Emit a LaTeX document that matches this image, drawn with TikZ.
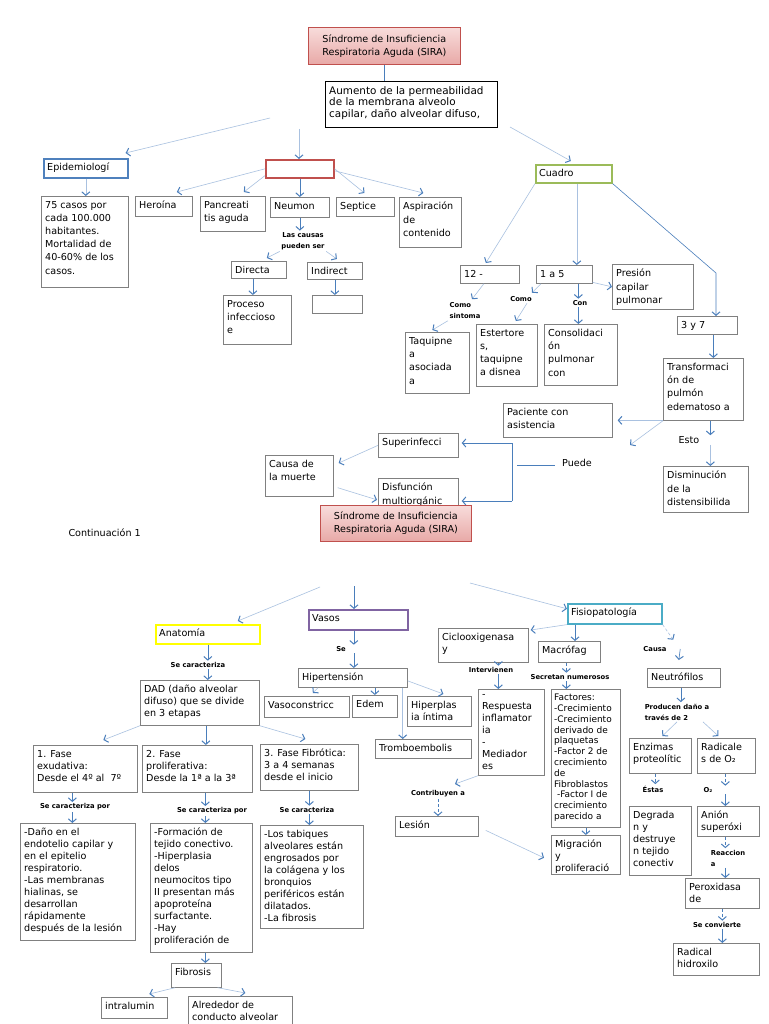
\documentclass[tikz,border=0pt]{standalone}
\usepackage{fontspec}
\setmainfont{DejaVu Sans}
\usetikzlibrary{arrows.meta,positioning,calc}
\definecolor{lineblue}{HTML}{4A7EBB}
\definecolor{paleblue}{HTML}{A9C1E0}
\definecolor{boxgray}{HTML}{808080}
\definecolor{sirared}{HTML}{C0504D}
\definecolor{sirapinkA}{HTML}{F8DCDB}
\definecolor{sirapinkB}{HTML}{E8A9A7}
\definecolor{epiblue}{HTML}{4F81BD}
\definecolor{cuadrogreen}{HTML}{9BBB59}
\definecolor{anayellow}{HTML}{FFFF00}
\definecolor{vasospurple}{HTML}{8064A2}
\definecolor{fisiocyan}{HTML}{4BACC6}
\newcommand{\boxfont}{\fontsize{9.6}{13.2}\selectfont}
\newcommand{\boxfontb}{\fontsize{9.6}{12}\selectfont}
\newcommand{\lblfont}{\bfseries\fontsize{6.8}{11}\selectfont}
\newcommand{\cellbox}[6][boxgray]{%
  \node[cell, draw=#1, minimum width=#4pt, minimum height=#5pt] (#2) at #3 {};
  \node[celltext] at (#2.north west) {#6};}

\begin{document}
\begin{tikzpicture}[x=1pt, y=-1pt, >={Straight Barb[length=3.5pt,width=8pt,line width=1pt]},
  cell/.style={anchor=north west, inner sep=0pt, line width=0.7pt, fill=white},
  celltext/.style={anchor=north west, inner xsep=4pt, inner ysep=5pt, align=left, font=\boxfont},
  accent/.style={line width=1.6pt},
  lbl/.style={inner sep=1.5pt, align=center, font=\lblfont},
  arr/.style={->, draw=lineblue, line width=0.6pt},
  pale/.style={-{Straight Barb[length=3.5pt,width=8pt,line width=1pt,color=lineblue]}, draw=paleblue, line width=0.6pt},
  dotarr/.style={arr, densely dashed},
  link/.style={draw=lineblue, line width=0.7pt},
  sira/.style={draw=sirared, line width=0.7pt, top color=sirapinkA, bottom color=sirapinkB, anchor=north west,
    minimum width=152pt, minimum height=37pt, inner sep=0pt, align=center, font=\boxfont}]
  \fill[white] (0,0) rectangle (768,1024);
  \useasboundingbox (0,0) rectangle (768,1024);

  \node[sira] (sira1) at (308,27) {Síndrome de Insuficiencia\\Respiratoria Aguda (SIRA)};
  \node[cell, draw=black, minimum width=172pt, minimum height=46pt] (aum) at (325,81) {};
  \node[celltext, font=\fontsize{10.4}{11.8}\selectfont] at (aum.north west) {Aumento de la permeabilidad\\de la membrana alveolo\\capilar, daño alveolar difuso,};
  \cellbox[epiblue, accent]{epi}{(43,158)}{84}{19}{Epidemiologí}
  \cellbox[sirared, accent]{causa}{(265,159)}{68}{18}{}
  \cellbox[cuadrogreen, accent]{cuadro}{(535,164)}{76}{18}{Cuadro}
  \cellbox{casos}{(41,196)}{87}{91}{75 casos por\\cada 100.000\\habitantes.\\Mortalidad de\\40-60\% de los\\casos.}
  \cellbox{hero}{(135,196)}{57}{20}{Heroína}
  \cellbox{pancr}{(200,196)}{65}{35}{Pancreati\\tis aguda}
  \cellbox{neum}{(270,197)}{59}{20}{Neumon}
  \cellbox{sept}{(336,197)}{58}{19}{Septice}
  \cellbox{aspir}{(399,197)}{62}{50}{Aspiración\\de\\contenido}
  \cellbox{dir}{(231,261)}{55}{17}{Directa}
  \cellbox{indir}{(307,262)}{55}{17}{Indirect}
  \cellbox{proc}{(223,295)}{68}{49}{Proceso\\infeccioso\\e}
  \cellbox{vacio}{(312,295)}{50}{18}{}
  \cellbox{doce}{(460,265)}{59}{18}{12 -}
  \cellbox{uno}{(536,265)}{56}{18}{1 a 5}
  \cellbox{pres}{(612,264)}{81}{45}{Presión\\capilar\\pulmonar}
  \cellbox{tres}{(677,316)}{60}{18}{3 y 7}
  \cellbox{taq}{(405,332)}{64}{61}{Taquipne\\a\\asociada\\a}
  \cellbox{est}{(476,324)}{61}{62}{Estertore\\s,\\taquipne\\a disnea}
  \cellbox{cons}{(544,324)}{73}{61}{Consolidaci\\ón\\pulmonar\\con}
  \cellbox{transf}{(663,358)}{80}{62}{Transformaci\\ón de\\pulmón\\edematoso a}
  \cellbox{pac}{(503,403)}{109}{34}{Paciente con\\asistencia}
  \cellbox{dism}{(663,466)}{85}{46}{Disminución\\de la\\distensibilida}
  \cellbox{sup}{(378,433)}{80}{24}{Superinfecci}
  \cellbox{disf}{(378,478)}{80}{29}{Disfunción\\multiorgánic}
  \cellbox{muerte}{(265,455)}{68}{41}{Causa de\\la muerte}
  \node[sira, minimum width=151pt, minimum height=36pt] (sira2) at (320,505) {Síndrome de Insuficiencia\\Respiratoria Aguda (SIRA)};

  \node[lbl] (lcaus) at (303,241) {Las causas\\pueden ser};
  \node[lbl, align=left] (lcomo1) at (465,311) {Como\\sintoma};
  \node[lbl] (lcomo2) at (521,299) {Como};
  \node[lbl] (lcon) at (580,303) {Con};
  \node[font=\boxfont, inner sep=1pt] (lesto) at (689,440) {Esto};
  \node[font=\boxfont, inner sep=1pt] (lpuede) at (577,463) {Puede};
  \node[font=\boxfont, anchor=west] (cont) at (65,533) {Continuación 1};

  \begin{scope}[celltext/.append style={font=\boxfontb}]
    \cellbox[anayellow, accent]{anat}{(155,624)}{104}{19}{Anatomía}
    \cellbox[vasospurple, accent]{vasos}{(308,609)}{99}{20}{Vasos}
    \cellbox[fisiocyan, accent]{fisio}{(567,603)}{94}{20}{Fisiopatología}
    \cellbox{dad}{(140,680)}{119}{45}{DAD (daño alveolar\\difuso) que se divide\\en 3 etapas}
    \cellbox{hiper}{(298,668)}{109}{19}{Hipertensión}
    \cellbox{vasoc}{(264,696)}{85}{21}{Vasoconstricc}
    \cellbox{edem}{(352,695)}{45}{22}{Edem}
    \cellbox{hipl}{(407,696)}{64}{30}{Hiperplas\\ia íntima}
    \cellbox{trombo}{(375,739)}{96}{19}{Tromboembolis}
    \cellbox{fase1}{(33,745)}{104}{47}{1. Fase\\exudativa:\\Desde el 4º al\ \ 7º}
    \cellbox{fase2}{(142,745)}{110}{47}{2. Fase\\proliferativa:\\Desde la 1ª a la 3ª}
    \cellbox{fase3}{(260,744)}{98}{46}{3. Fase Fibrótica:\\3 a 4 semanas\\desde el inicio}
    \cellbox{caract1}{(20,823)}{115}{117}{-Daño en el\\endotelio capilar y\\en el epitelio\\respiratorio.\\-Las membranas\\hialinas, se\\desarrollan\\rápidamente\\después de la lesión}
    \cellbox{caract2}{(150,823)}{102}{129}{-Formación de\\tejido conectivo.\\-Hiperplasia\\delos\\neumocitos tipo\\II presentan más\\apoproteína\\surfactante.\\-Hay\\proliferación de}
    \cellbox{caract3}{(260,825)}{103}{103}{-Los tabiques\\alveolares están\\engrosados por\\la colágena y los\\bronquios\\periféricos están\\dilatados.\\-La fibrosis}
    \cellbox{fibro}{(171,963)}{50}{24}{Fibrosis}
    \cellbox{intra}{(101,997)}{66}{21}{intralumin}
    \cellbox{alred}{(188,996)}{104}{30}{Alrededor de\\conducto alveolar}
    \cellbox{cicl}{(438,628)}{90}{34}{Ciclooxigenasa\\y}
    \cellbox{macro}{(538,641)}{62}{21}{Macrófag}
    \cellbox{neut}{(647,668)}{73}{19}{Neutrófilos}
    \cellbox{resp}{(478,689)}{66}{86}{-\\Respuesta\\inflamator\\ia\\-\\Mediador\\es}
    \node[cell, draw=boxgray, minimum width=69pt, minimum height=138pt] (fact) at (551,689) {};
    \node[celltext, font=\fontsize{9}{10.8}\selectfont, inner xsep=3pt] at (fact.north west) {Factores:\\-Crecimiento\\-Crecimiento\\derivado de\\plaquetas\\-Factor 2 de\\crecimiento\\de\\Fibroblastos\\\ -Factor I de\\crecimiento\\parecido a};
    \cellbox{lesion}{(395,816)}{83}{20}{Lesión}
    \cellbox{migr}{(551,835)}{69}{39}{Migración\\y\\proliferació}
    \cellbox{enz}{(629,738)}{62}{35}{Enzimas\\proteolític}
    \cellbox{rad}{(697,738)}{58}{35}{Radicale\\s de O₂}
    \cellbox{degr}{(629,806)}{62}{69}{Degrada\\n y\\destruye\\n tejido\\conectiv}
    \cellbox{anion}{(697,806)}{62}{30}{Anión\\superóxi}
    \cellbox{perox}{(685,878)}{74}{30}{Peroxidasa\\de}
    \cellbox{radh}{(673,943)}{86}{32}{Radical\\hidroxilo}
  \end{scope}

  \node[lbl] (lcar) at (198,665) {Se caracteriza};
  \node[lbl] (lse) at (341,649) {Se};
  \node[lbl] (lpor1) at (75,807) {Se caracteriza por};
  \node[lbl] (lpor2) at (212,811) {Se caracteriza por};
  \node[lbl] (lcar3) at (307,810) {Se caracteriza};
  \node[lbl] (linterv) at (491,670) {Intervienen};
  \node[lbl] (lsecr) at (570,677) {Secretan numerosos};
  \node[lbl] (lcausa) at (655,649) {Causa};
  \node[lbl, align=left] (lprod) at (677,712) {Producen daño a\\través de 2};
  \node[lbl] (lcontr) at (438,794) {Contribuyen a};
  \node[lbl] (lestas) at (653,789) {Éstas};
  \node[lbl] (lo2) at (708,790) {O₂};
  \node[lbl, align=left] (lreacc) at (728,858) {Reaccion\\a};
  \node[lbl] (lconv) at (717,925) {Se convierte};

  \coordinate (aumL) at (270,118);
  \coordinate (aumM) at (299,129);
  \coordinate (aumR) at (510,127);
  \coordinate (bendR) at (716,273);
  \coordinate (lost) at (630,445);
  \coordinate (brT) at (512,443);
  \coordinate (brB) at (512,501);
  \coordinate (brM) at (517,465);
  \coordinate (contA) at (470,583);
  \coordinate (contB) at (320,587);
  \coordinate (contC) at (354,586);

  \draw[link] (sira1.south) -- (sira1.south |- aum.north);
  \draw[pale] (aumL) -- ([xshift=-3pt,yshift=5pt]epi.north east);
  \draw[pale] (aumM) -- (aumM |- causa.north);
  \draw[pale] (aumR) -- ([xshift=-3pt,yshift=3pt]cuadro.north);
  \draw[pale] (epi.south) -- (epi.south |- casos.north);
  \draw[pale] (causa.west) -- ([xshift=13pt,yshift=4pt]hero.north);
  \draw[pale] ([yshift=3pt]causa.south west) -- ([xshift=11pt,yshift=4pt]pancr.north);
  \draw[arr] (causa.south) -- (causa.south |- neum.north);
  \draw[pale] (causa.east) -- ([xshift=-1pt,yshift=4pt]sept.north);
  \draw[pale] ([yshift=-2pt]causa.east) -- ([xshift=-7pt,yshift=4pt]aspir.north);
  \draw[arr] (neum.south) -- (neum.south |- lcaus.north);
  \draw[pale] (lcaus.south west) -- ([xshift=8pt,yshift=3pt]dir.north);
  \draw[pale] (lcaus.south east) -- ([xshift=2pt,yshift=3pt]indir.north);
  \draw[arr] ([xshift=-6pt]dir.south) -- ([xshift=-6pt]dir.south |- proc.north);
  \draw[arr] (indir.south) -- (indir.south |- vacio.north);

  \draw[pale] (cuadro.south west) -- ([xshift=-4pt,yshift=2pt]doce.north);
  \draw[pale] ([xshift=3pt]cuadro.south) -- ([xshift=3pt]cuadro.south |- uno.north);
  \draw[arr] (cuadro.south east) -- (bendR) -- (bendR |- tres.north);
  \draw[pale] ([yshift=-8pt]uno.east) -- (pres.west);
  \draw[pale] ([xshift=-6pt]doce.south) -- ([xshift=7pt,yshift=2pt]lcomo1.north);
  \draw[pale] (lcomo1.south west) -- ([xshift=-5pt,yshift=2pt]taq.north);
  \draw[pale] ([xshift=5pt]uno.south west) -- ([xshift=11pt,yshift=2pt]lcomo2.north);
  \draw[pale] ([xshift=6pt]lcomo2.south) -- ([xshift=9pt,yshift=3pt]est.north);
  \draw[arr] ([xshift=14pt]uno.south) -- ([xshift=14pt]uno.south |- lcon.north);
  \draw[arr] ([xshift=14pt]uno.south |- lcon.south) -- ([xshift=14pt]uno.south |- cons.north);
  \draw[arr] ([xshift=6pt]tres.south) -- ([xshift=6pt]tres.south |- transf.north);
  \draw[pale] (transf.west |- pac.east) -- ([xshift=5pt]pac.east);
  \draw[pale] (transf.south west) -- (lost);
  \draw[arr] ([xshift=7pt]transf.south) -- ([xshift=7pt]transf.south |- lesto.north);
  \draw[pale] ([xshift=7pt]transf.south |- lesto.south) -- ([xshift=7pt]transf.south |- dism.north);

  \draw[link] (brT) -- (brB);
  \draw[arr] (brT) -- ([xshift=3pt]brT -| sup.east);
  \draw[arr] (brB) -- ([xshift=3pt]brB -| disf.east);
  \draw[link] (brM) -- ([xshift=-6pt]brM -| lpuede.west);
  \draw[pale] (sup.west) -- ([xshift=5pt,yshift=-8pt]muerte.north east);
  \draw[pale] ([xshift=4pt,yshift=9pt]muerte.south east) -- ([xshift=-1pt,yshift=-7pt]disf.west);

  \draw[pale] (contA) -- ([yshift=5pt]fisio.west);
  \draw[pale] (contB) -- ([xshift=30pt,yshift=3pt]anat.north);
  \draw[arr] (contC) -- (contC |- vasos.north);
  \draw[arr] (anat.south) -- (anat.south |- lcar.north);
  \draw[arr] (anat.south |- lcar.south) -- (anat.south |- dad.north);
  \draw[pale] (dad.south west) -- ([xshift=18pt,yshift=5pt]fase1.north);
  \draw[arr] ([xshift=6pt]dad.south) -- ([xshift=6pt]dad.south |- fase2.north);
  \draw[pale] (dad.south east) -- ([xshift=-4pt,yshift=5pt]fase3.north);
  \draw[arr] ([xshift=-13pt]fase1.south) -- ([xshift=-13pt]fase1.south |- lpor1.north);
  \draw[arr] ([xshift=-13pt]fase1.south |- lpor1.south) -- ([xshift=-13pt]fase1.south |- caract1.north);
  \draw[arr] ([xshift=8pt]fase2.south) -- ([xshift=8pt]fase2.south |- lpor2.north);
  \draw[arr] ([xshift=8pt]fase2.south |- lpor2.south) -- ([xshift=8pt]fase2.south |- caract2.north);
  \draw[arr] (fase3.south) -- (fase3.south |- lcar3.north);
  \draw[arr] (fase3.south |- lcar3.south) -- (fase3.south |- caract3.north);
  \draw[arr] ([xshift=4pt]caract2.south) -- ([xshift=4pt]caract2.south |- fibro.north);
  \draw[pale] ([xshift=4pt]fibro.south west) -- ([xshift=15pt,yshift=3pt]intra.north);
  \draw[pale] ([xshift=-4pt]fibro.south east) -- ([xshift=5pt,yshift=3pt]alred.north);

  \draw[arr] ([xshift=-4.5pt]vasos.south) -- ([xshift=-4.5pt]vasos.south |- lse.north);
  \draw[arr] ([xshift=-4.5pt]vasos.south |- lse.south) -- ([xshift=-4.5pt]vasos.south |- hiper.north);
  \draw[pale] ([xshift=20pt]hiper.south west) -- ([xshift=6pt,yshift=3pt]vasoc.north);
  \draw[arr] (edem.north |- hiper.south) -- (edem.north);
  \draw[pale] ([yshift=-3pt]hiper.east) -- ([xshift=4pt,yshift=2pt]hipl.north);
  \draw[pale] ([xshift=-5pt]hiper.south east) -- ([xshift=-5pt]hiper.south east |- trombo.north);

  \draw[pale] (fisio.south west) -- ([xshift=2pt,yshift=-2pt]cicl.north east);
  \draw[arr] ([xshift=8pt]fisio.south west) -- ([xshift=8pt]fisio.south west |- macro.north);
  \draw[pale, densely dashed] (fisio.south east) -- ([xshift=5pt,yshift=5pt]lcausa.north east);
  \draw[arr] ([xshift=12pt]lcausa.east) -- ([xshift=-5pt,yshift=8pt]neut.north);
  \draw[arr] ([xshift=15pt]cicl.south) -- ([xshift=15pt]cicl.south |- linterv.north);
  \draw[arr] ([xshift=15pt]cicl.south |- linterv.south) -- ([xshift=15pt]cicl.south |- resp.north);
  \draw[dotarr] ([xshift=-3pt]macro.south) -- ([xshift=-3pt]macro.south |- lsecr.north);
  \draw[arr] ([xshift=-3pt]macro.south |- lsecr.south) -- ([xshift=-3pt]macro.south |- fact.north);
  \draw[pale] (resp.south west) -- ([xshift=17pt,yshift=5pt]lcontr.north);
  \draw[dotarr] (lcontr.south) -- (lcontr.south |- lesion.north);
  \draw[pale] ([xshift=7pt,yshift=-4pt]lesion.east) -- ([xshift=-7pt,yshift=-3pt]migr.west);
  \draw[arr] (fact.south) -- (fact.south |- migr.north);

  \draw[arr] ([xshift=-3pt]neut.south) -- ([xshift=-3pt]neut.south |- lprod.north);
  \draw[pale] (lprod.south) -- ([xshift=2pt,yshift=2pt]enz.north);
  \draw[pale] ([xshift=26pt]lprod.south) -- ([xshift=-8pt,yshift=2pt]rad.north);
  \draw[dotarr] ([xshift=-5pt]enz.south) -- ([xshift=-5pt]enz.south |- lestas.north);
  \draw[dotarr] ([xshift=-1pt]rad.south) -- ([xshift=-1pt]rad.south |- lo2.north);
  \draw[arr] ([xshift=-1pt]rad.south |- lo2.south) -- ([xshift=-1pt]rad.south |- anion.north);
  \draw[dotarr] ([xshift=-3pt]anion.south) -- ([xshift=-3pt]anion.south |- lreacc.north);
  \draw[arr] ([xshift=-3pt]anion.south |- lreacc.south) -- ([xshift=-3pt]anion.south |- perox.north);
  \draw[dotarr] (perox.south) -- (perox.south |- lconv.north);
  \draw[arr] (perox.south |- lconv.south) -- (perox.south |- radh.north);
\end{tikzpicture}
\end{document}
